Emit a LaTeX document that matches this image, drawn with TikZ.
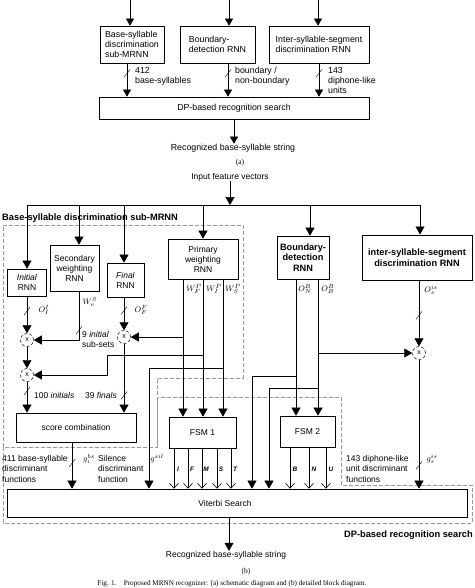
\documentclass[tikz,border=0pt]{standalone}
\usepackage{fontspec}
\setmainfont{Liberation Sans}
\newfontfamily\capfont{Liberation Serif}
\usetikzlibrary{arrows.meta,calc}

\tikzset{
  blk/.style={draw,line width=0.7pt,align=center,inner sep=1pt,
              font=\fontsize{8.5}{10}\selectfont},
  blka/.style={blk,align=left,minimum height=37pt,font=\fontsize{8.8}{10}\selectfont},
  mult/.style={circle,draw,densely dashed,line width=0.5pt,minimum size=13pt,
               inner sep=0pt,font=\fontsize{7}{7}\selectfont},
  lbl/.style={inner sep=0pt,align=left,font=\fontsize{8.5}{10.5}\selectfont},
  hdr/.style={inner sep=0pt,font=\fontsize{9.3}{11}\selectfont\bfseries},
  sym/.style={inner sep=0pt,font=\fontsize{8}{9}\selectfont},
  fsmout/.style={inner sep=0pt,font=\fontsize{6.5}{7}\selectfont\bfseries\itshape},
  arr/.style={line width=0.6pt,-{Triangle[width=8pt,length=7pt]}},
  arrb/.style={line width=0.6pt,-{Triangle[width=9pt,length=8pt]}},
  vee/.style={line width=0.6pt,-{Straight Barb[width=9pt,length=5pt]}},
  region/.style={draw=black!40,line width=0.5pt,dash pattern=on 4pt off 2pt},
}
\newcommand\busmark[1]{\draw[line width=0.4pt] ([shift={(-3,4)}]#1) -- ([shift={(3,-4)}]#1);}

\begin{document}
\begin{tikzpicture}[x=1pt,y=-1pt]
\useasboundingbox (0,0) rectangle (474,588);

% (a) schematic diagram
\node[blka,minimum width=64pt] (bsa) at (132,44.5) {Base-syllable\\discrimination\\sub-MRNN};
\node[blka,minimum width=75pt] (bda) at (217.5,44.5) {Boundary-\\detection RNN};
\node[blka,minimum width=100pt] (isa) at (319,44.5) {Inter-syllable-segment\\discrimination RNN};
\node[blk,minimum width=270pt,minimum height=22pt,font=\fontsize{8.8}{10}\selectfont] (dpa) at (234,108) {DP-based recognition search};

\coordinate (ta1) at (130,0);
\coordinate (ta2) at (229,0);
\coordinate (ta3) at (318,0);
\draw[arr] (ta1) -- (ta1 |- bsa.north);
\draw[arr] (ta2) -- (ta2 |- bda.north);
\draw[arr] (ta3) -- (ta3 |- isa.north);

\draw[arr] ([xshift=-5pt]bsa.south) -- coordinate[pos=.3] (ka1) ([xshift=-5pt]bsa.south |- dpa.north);
\draw[arr] ([xshift=10.5pt]bda.south) -- coordinate[pos=.3] (ka2) ([xshift=10.5pt]bda.south |- dpa.north);
\draw[arr] (isa.south) -- coordinate[pos=.3] (ka3) (isa.south |- dpa.north);
\busmark{ka1}
\busmark{ka2}
\busmark{ka3}
\node[lbl,anchor=north west,font=\fontsize{8.8}{10}\selectfont] (n412) at (135,67) {412\\base-syllables};
\node[lbl,anchor=north west,font=\fontsize{8.8}{10}\selectfont] (nbnd) at (235,67) {boundary /\\non-boundary};
\node[lbl,anchor=north west,font=\fontsize{8.8}{10}\selectfont] (n143) at (328,67) {143\\diphone-like\\units};

\node[lbl,font=\fontsize{8.8}{10}\selectfont] (reca) at (233,148) {Recognized base-syllable string};
\draw[arr] (dpa.south) -- (dpa.south |- reca.north);
\node[inner sep=0pt,font=\capfont\fontsize{7.5}{8}\selectfont] (capa) at (240,163) {(a)};

% (b) detailed block diagram
\node[lbl] (inp) at (230,177) {Input feature vectors};
\coordinate (bus) at (230,205);
\coordinate (busL) at (27,205);
\coordinate (busR) at (420,205);
\draw[arrb] (inp.south) -- (bus);
\draw[line width=0.6pt] (busL) -- (busR);

\node[hdr,anchor=west] (subt) at (2,218) {Base-syllable discrimination sub-MRNN};
\draw[region] (3,225) -- (243,225) -- (243,378) -- (157,378) -- (157,447) -- (3,447) -- cycle;
\draw[region] (157,447) -- (157,397) -- (341,397) -- (341,485) -- (472,485) -- (472,523) -- (3,523) -- (3,447);
\node[hdr,anchor=east] (dpt) at (473,535) {DP-based recognition search};

\node[blk,minimum width=39pt,minimum height=27pt] (ini) at (27,282.5) {\textit{Initial}\\RNN};
\node[blk,minimum width=49pt,minimum height=46pt] (sec) at (74.5,268) {Secondary\\weighting\\RNN};
\node[blk,minimum width=37pt,minimum height=34pt] (fin) at (125.5,280) {\textit{Final}\\RNN};
\node[blk,minimum width=70pt,minimum height=40pt] (pri) at (203,259) {Primary\\weighting\\RNN};
\node[blk,minimum width=52pt,minimum height=43pt,font=\fontsize{9.2}{10.5}\selectfont\bfseries] (bdb) at (303,257.5) {Boundary-\\detection\\RNN};
\node[blk,line width=1pt,minimum width=110pt,minimum height=45pt,font=\fontsize{9.2}{10.5}\selectfont\bfseries] (isb) at (417,257.5) {inter-syllable-segment\\discrimination RNN};

\coordinate (d1) at (27,205);
\coordinate (d2) at (79,205);
\coordinate (d3) at (124,205);
\coordinate (d4) at (203,205);
\coordinate (d5) at (310,205);
\coordinate (d6) at (420,205);
\foreach \d/\n in {d1/ini,d2/sec,d3/fin,d4/pri,d5/bdb,d6/isb}
  \draw[arrb] (\d) -- (\d |- \n.north);

\node[mult] (m1) at (27,340) {x};
\node[mult] (m2) at (27,375) {x};
\node[mult] (m3) at (124,337) {x};
\node[mult] (m4) at (419,353) {x};

\node[blk,minimum width=120pt,minimum height=29pt] (scb) at (76,427.5) {score combination};
\node[blk,minimum width=67pt,minimum height=31pt] (fsm1) at (202.5,432.5) {FSM 1};
\node[blk,minimum width=55pt,minimum height=31pt] (fsm2) at (307.5,431.5) {FSM 2};
\node[blk,minimum width=460pt,minimum height=28pt] (vit) at (237,503) {};
\node[lbl] (vitl) at (225,503) {Viterbi Search};

% initial / final branch
\draw[arrb] (ini.south -| m1) -- coordinate[pos=.4] (k1) (m1);
\busmark{k1}
\node[sym] (oi) at (44,310) {$O_I^I$};
\coordinate (s1) at (79,340);
\draw[arrb] (sec.south -| s1) -- coordinate[pos=.8] (k2) (s1) -- (m1);
\busmark{k2}
\node[sym] (we) at (90,302) {$W_e^S$};
\node[lbl,anchor=north west] (n9) at (82,331) {9 \textit{initial}\\sub-sets};
\draw[arrb] (m1) -- (m2);
\draw[arrb] (m2) -- coordinate[pos=.3] (k3) (m2 |- scb.north);
\busmark{k3}
\node[lbl,anchor=west] (n100) at (34,395) {100 \textit{initials}};
\draw[arrb] (fin.south -| m3) -- coordinate[pos=.4] (k4) (m3);
\busmark{k4}
\node[sym] (of) at (141,310) {$O_F^F$};
\draw[arrb] (m3) -- coordinate[pos=.75] (k5) (m3 |- scb.north);
\busmark{k5}
\node[lbl,anchor=east] (n39) at (117,395) {39 \textit{finals}};

% primary weighting outputs
\coordinate (wf) at (183,337);
\coordinate (wi) at (203,355);
\coordinate (ws) at (223,368);
\coordinate (wi2) at (107,375);
\coordinate (gsx) at (149,368);
\draw[arrb] (pri.south -| wf) -- (wf |- fsm1.north);
\draw[arrb] (wf) -- (m3);
\draw[arrb] (pri.south -| wi) -- (wi |- fsm1.north);
\draw[arrb] (wi) -| (wi2) -- (m2);
\draw[arrb] (pri.south -| ws) -- (ws |- fsm1.north);
\draw[arrb] (ws) -- (gsx) -- (gsx |- vit.north);
\node[sym] (lwf) at (194,289) {$W_F^P$};
\node[sym] (lwi) at (214,289) {$W_I^P$};
\node[sym] (lws) at (233,289) {$W_S^P$};

% score combination to Viterbi
\draw[arrb] ([xshift=-4pt]scb.south) -- coordinate[pos=.45] (k6) ([xshift=-4pt]scb.south |- vit.north);
\busmark{k6}
\node[sym] (gbs) at (89,459) {$g_i^{bs}$};
\node[lbl,anchor=north west] (n411) at (2,455) {411 base-syllable\\discriminant\\functions};
\node[lbl,anchor=north west] (nsil) at (98,455) {Silence\\discriminant\\function};
\node[sym] (gsil) at (157,459) {$g^{sil}$};

% boundary detection outputs
\coordinate (on) at (296,376);
\coordinate (ob) at (318,353);
\coordinate (ob2) at (318,388);
\coordinate (vn) at (252,376);
\coordinate (vb) at (269,388);
\draw[arrb] (bdb.south -| on) -- (on |- fsm2.north);
\draw[arrb] (on) -- (vn) -- (vn |- vit.north);
\draw[arrb] (bdb.south -| ob) -- (ob |- fsm2.north);
\draw[arrb] (ob) -- (m4);
\draw[arrb] (ob2) -- (vb) -- (vb |- vit.north);
\node[sym] (lon) at (305,289) {$O_N^B$};
\node[sym] (lob) at (328,289) {$O_B^B$};

% inter-syllable-segment outputs
\draw[arrb] (isb.south -| m4) -- coordinate[pos=.53] (k7) (m4);
\busmark{k7}
\node[sym] (ois) at (431,290) {$O_s^{is}$};
\draw[arrb] (m4) -- coordinate[pos=.82] (k8) (m4 |- vit.north);
\busmark{k8}
\node[sym] (gis) at (432,459) {$g_s^{is}$};
\node[lbl,anchor=north west] (n143b) at (346,455) {143 diphone-like\\unit discriminant\\functions};

% FSM outputs
\foreach \x/\t in {174/I,188/F,202/M,217/S,231/T} {
  \coordinate (fo) at (\x,0);
  \draw[vee] (fsm1.south -| fo) -- (fo |- vit.north);
  \node[fsmout] at ({\x+4},469) {\t};
}
\foreach \x/\t in {290/B,309/N,326/U} {
  \coordinate (fo) at (\x,0);
  \draw[vee] (fsm2.south -| fo) -- (fo |- vit.north);
  \node[fsmout] at ({\x+5},469) {\t};
}

\node[lbl] (recb) at (226,555) {Recognized base-syllable string};
\draw[arrb] ([xshift=-8pt]vit.south) -- ([xshift=-8pt]vit.south |- recb.north);
\node[inner sep=0pt,font=\capfont\fontsize{7.5}{8}\selectfont] (capb) at (246,572) {(b)};
\node[inner sep=0pt,font=\capfont\fontsize{7.2}{8}\selectfont] (capt) at (232,584)
  {Fig. 1.\quad Proposed MRNN recognizer: (a) schematic diagram and (b) detailed block diagram.};
\end{tikzpicture}
\end{document}
